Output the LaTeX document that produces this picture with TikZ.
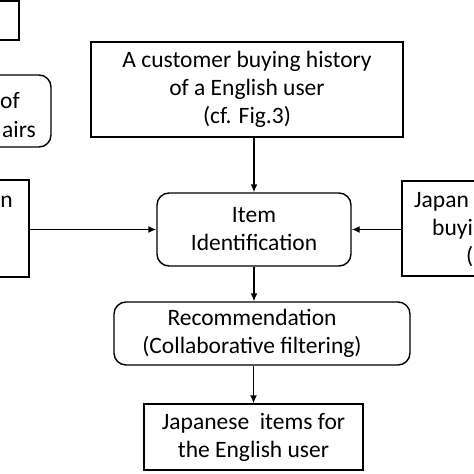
\documentclass[tikz,border=0pt]{standalone}
\usepackage{fontspec}
\setmainfont{Carlito}
\usetikzlibrary{arrows.meta}

\begin{document}
\begin{tikzpicture}
        [x=1pt, y=-1pt,
        every node/.style={font=\fontsize{23.5}{28}\selectfont, align=center, inner sep=0pt},
        boxed/.style={draw, line width=1.4pt},
        roundbox/.style={draw, line width=1.4pt, rounded corners=12pt},
        flow/.style={line width=1.4pt, -{Latex[length=8pt,width=7pt]}}]

    \useasboundingbox (0,0) rectangle (474,474);
    \clip (0,0) rectangle (474,474);

    % boxes cut by the border
    \node[boxed, minimum width=100pt, minimum height=39pt] (corner) at (-31,20.5) {};
    \node[roundbox, minimum width=160pt, minimum height=72pt] (pairs) at (-29,111) {};
    \node[anchor=base east] (pairsa) at (20,108) {of};
    \node[anchor=base east] (pairsb) at (36,137) {airs};
    \node[boxed, minimum width=160pt, minimum height=97pt] (left) at (-51,228.5) {};
    \node[anchor=base east] (lefta) at (13,207) {n};
    \node[boxed, minimum width=160pt, minimum height=95pt] (right) at (482,228.5) {};
    \node[anchor=base west] (righta) at (414,207) {Japan};
    \node[anchor=base west] (rightb) at (432,235) {buyi};
    \node[anchor=base west] (rightc) at (466,263) {(};

    % main flow
    \node[boxed, minimum width=312pt, minimum height=95pt] (hist) at (247,89.5)
      {A customer buying history\\of a English user\\(cf. Fig.3)};
    \node[roundbox, minimum width=194pt, minimum height=73pt] (ident) at (254,229.5)
      {Item\\Identification};
    \node[roundbox, minimum width=296pt, minimum height=63pt] (rec) at (262,333.5) {};
    \node (rectext) at (252,333.5) {Recommendation\\(Collaborative filtering)};
    \node[boxed, minimum width=219pt, minimum height=66pt] (out) at (253.5,437)
      {Japanese~ items for\\the English user};

    \draw[flow] (hist.south -| ident.north) -- (ident.north);
    \draw[flow] (left.east |- ident.west) -- (ident.west);
    \draw[flow] (right.west |- ident.east) -- (ident.east);
    \draw[flow] (ident.south) -- (ident.south |- rec.north);
    \draw[flow] (rec.south -| out.north) -- (out.north);
\end{tikzpicture}
\end{document}
